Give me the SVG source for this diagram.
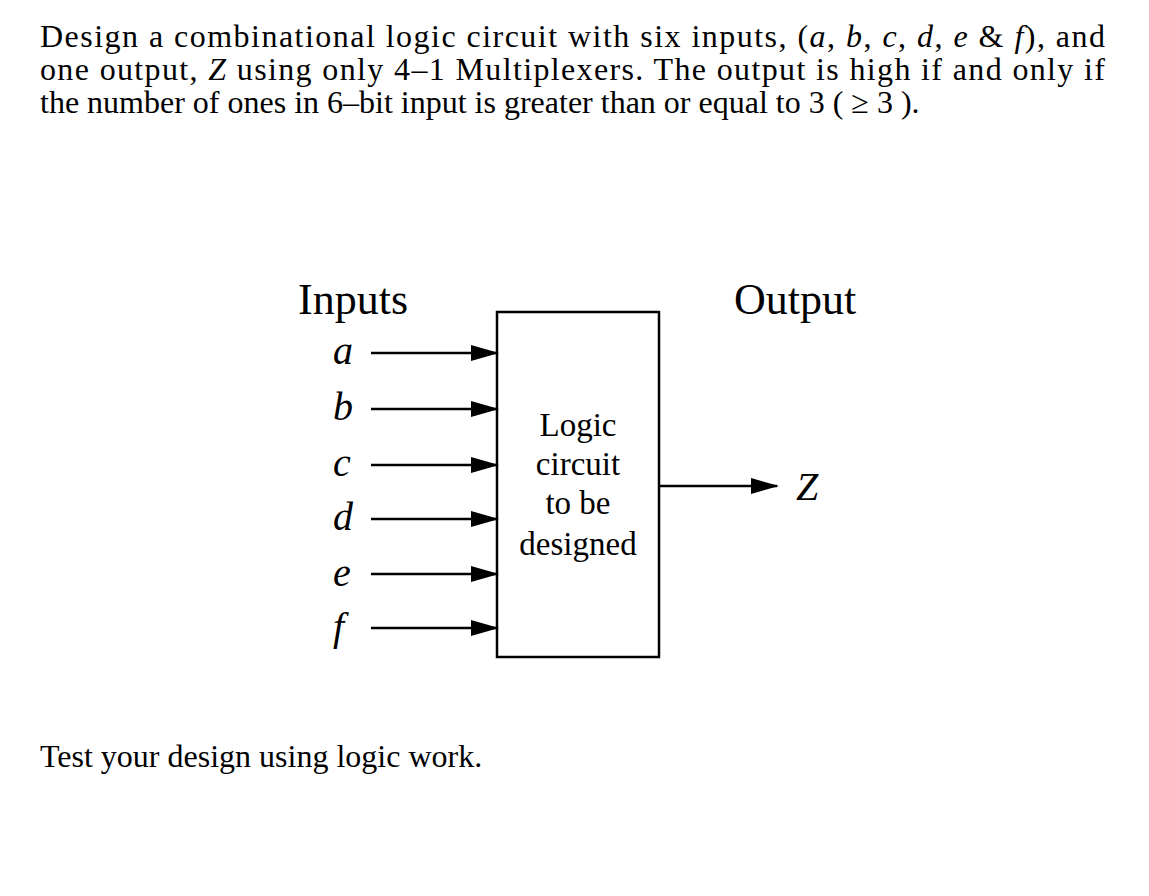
<svg xmlns="http://www.w3.org/2000/svg" width="1149" height="896" viewBox="0 0 1149 896">
<style>
text{font-family:"Liberation Serif",serif;fill:#000}
.p{font-size:32px}
.v{font-size:40px;font-style:italic}
.h{font-size:44px}
.b{font-size:33px}
line{stroke:#000;stroke-width:2.5}
</style>
<defs><marker id="ar" markerWidth="28" markerHeight="16" refX="26" refY="8" orient="auto" markerUnits="userSpaceOnUse"><path d="M0,0 L28,8 L0,16 Z" fill="#000"/></marker></defs>
<rect width="1149" height="896" fill="#fff"/>
<g id="question">
<text class="p" x="40" y="47" textLength="1065" lengthAdjust="spacing">Design a combinational logic circuit with six inputs, (<tspan font-style="italic">a</tspan>, <tspan font-style="italic">b</tspan>, <tspan font-style="italic">c</tspan>, <tspan font-style="italic">d</tspan>, <tspan font-style="italic">e</tspan> &amp; <tspan font-style="italic">f</tspan>), and</text>
<text class="p" x="40" y="80" textLength="1065" lengthAdjust="spacing">one output, <tspan font-style="italic">Z</tspan>  using only 4–1 Multiplexers. The output is high if and only if</text>
<text class="p" x="40" y="113">the number of ones in 6–bit input is greater than or equal to 3 ( ≥ 3 ).</text>
<text class="p" x="40" y="767">Test your design using logic work.</text>
</g>
<text class="h" x="298" y="314">Inputs</text>
<text class="h" x="734" y="314">Output</text>
<g id="block"><rect x="497" y="312" width="162" height="345" fill="none" stroke="#000" stroke-width="2.5"/>
<text class="b" text-anchor="middle" x="578" y="436">Logic</text>
<text class="b" text-anchor="middle" x="578" y="475">circuit</text>
<text class="b" text-anchor="middle" x="578" y="514">to be</text>
<text class="b" text-anchor="middle" x="578" y="555">designed</text></g>
<g id="labels">
<text class="v" x="333" y="364">a</text><text class="v" x="333" y="420">b</text><text class="v" x="333" y="476">c</text><text class="v" x="333" y="530">d</text><text class="v" x="333" y="586">e</text><text class="v" x="333" y="640">f</text>
<text class="v" x="796" y="500">Z</text></g>
<g id="connectors">
<line x1="371" y1="353" x2="497" y2="353" marker-end="url(#ar)"/>
<line x1="371" y1="409" x2="497" y2="409" marker-end="url(#ar)"/>
<line x1="371" y1="465" x2="497" y2="465" marker-end="url(#ar)"/>
<line x1="371" y1="519" x2="497" y2="519" marker-end="url(#ar)"/>
<line x1="371" y1="574" x2="497" y2="574" marker-end="url(#ar)"/>
<line x1="371" y1="628" x2="497" y2="628" marker-end="url(#ar)"/>
<line x1="659" y1="486" x2="777" y2="486" marker-end="url(#ar)"/>
</g>
</svg>
